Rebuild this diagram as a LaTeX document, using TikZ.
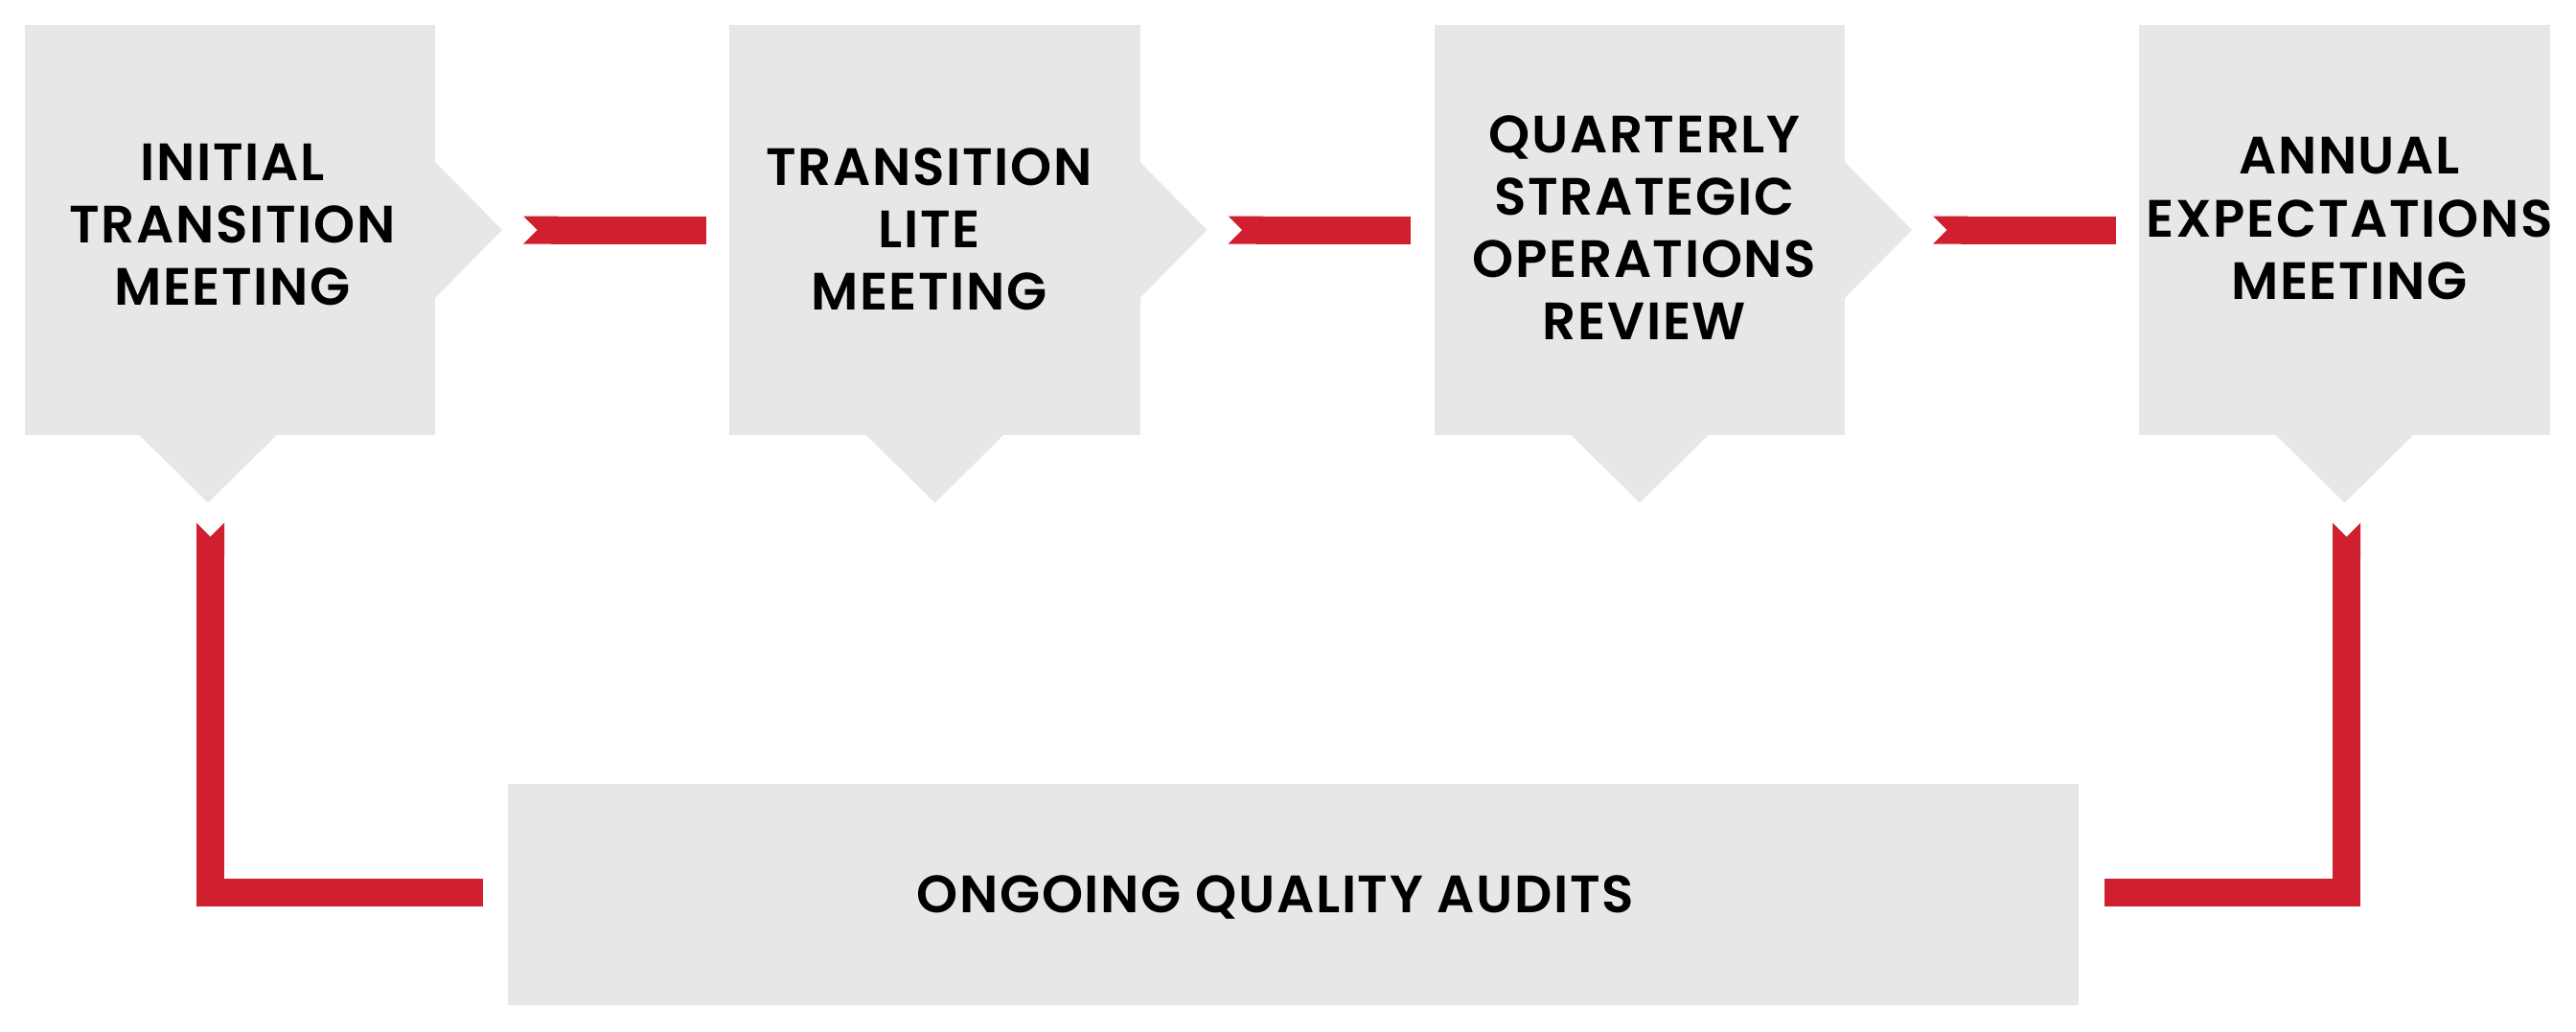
\documentclass[tikz,border=0pt]{standalone}
\usepackage{fontspec}
\setmainfont{Poppins}[UprightFont=* SemiBold, LetterSpace=3]
\usetikzlibrary{arrows.meta,positioning,calc}
\definecolor{panel}{RGB}{230,231,232}
\definecolor{ribred}{RGB}{208,31,46}
\tikzset{
  stage/.style   = {fill=panel, minimum width=4.286cm, minimum height=4.28cm,
                    inner sep=0pt},
  banner/.style  = {fill=panel, minimum width=16.39cm, minimum height=2.31cm,
                    inner sep=0pt},
  caption/.style = {align=center, inner sep=0pt,
                    font=\fontsize{15.6}{18.5}\selectfont},
  ribbon/.style  = {draw=ribred, line width=2.9mm, line join=miter,
                    {Triangle Cap[reversed]}-}
}

\begin{document}
\begin{tikzpicture}[x=1cm,y=1cm]
  \useasboundingbox (0,0) rectangle (26.88,-10.76);
  \node[stage] (s1) at (2.40,-2.40) {};
  \node[stage] (s2) at (9.755,-2.40) {};
  \node[stage] (s3) at (17.11,-2.40) {};
  \node[stage] (s4) at (24.465,-2.40) {};
  \node[banner] (audit) at (13.495,-9.335) {};
  \foreach \s in {s1,s2,s3}
    \fill[panel] ($(\s.east)+(-0.02,0.72)$) -- ++(0.71,-0.72) -- ++(-0.71,-0.72) -- cycle;
  \foreach \s/\dx in {s1/-0.23,s2/0,s3/0,s4/0}
    \fill[panel] ($(\s.south)+(\dx-0.73,0.02)$) -- ++(0.73,-0.72) -- ++(0.73,0.72) -- cycle;
  \node[caption] (c1) at (2.425,-2.345) {INITIAL\\TRANSITION\\MEETING};
  \node[caption] (c2) at (9.695,-2.39) {TRANSITION\\LITE\\MEETING};
  \node[caption] (c3) at (17.16,-2.38) {QUARTERLY\\STRATEGIC\\OPERATIONS\\REVIEW};
  \node[caption] (c4) at (24.515,-2.28) {ANNUAL\\EXPECTATIONS\\MEETING};
  \node[caption] (c5) at (13.31,-9.365) {ONGOING QUALITY AUDITS};
  \foreach \a/\b in {s1/s2,s2/s3,s3/s4}
    \draw[ribbon] ([xshift=9.1mm]\a.east) -- ([xshift=-2.4mm]\b.west);
  \draw[ribbon] ([xshift=-2.05mm,yshift=-9.1mm]s1.south) |- ([xshift=-2.5mm,yshift=0.2mm]audit.west);
  \draw[ribbon] ([xshift=0.2mm,yshift=-9.1mm]s4.south) |- ([xshift=2.6mm,yshift=0.2mm]audit.east);
\end{tikzpicture}
\end{document}
